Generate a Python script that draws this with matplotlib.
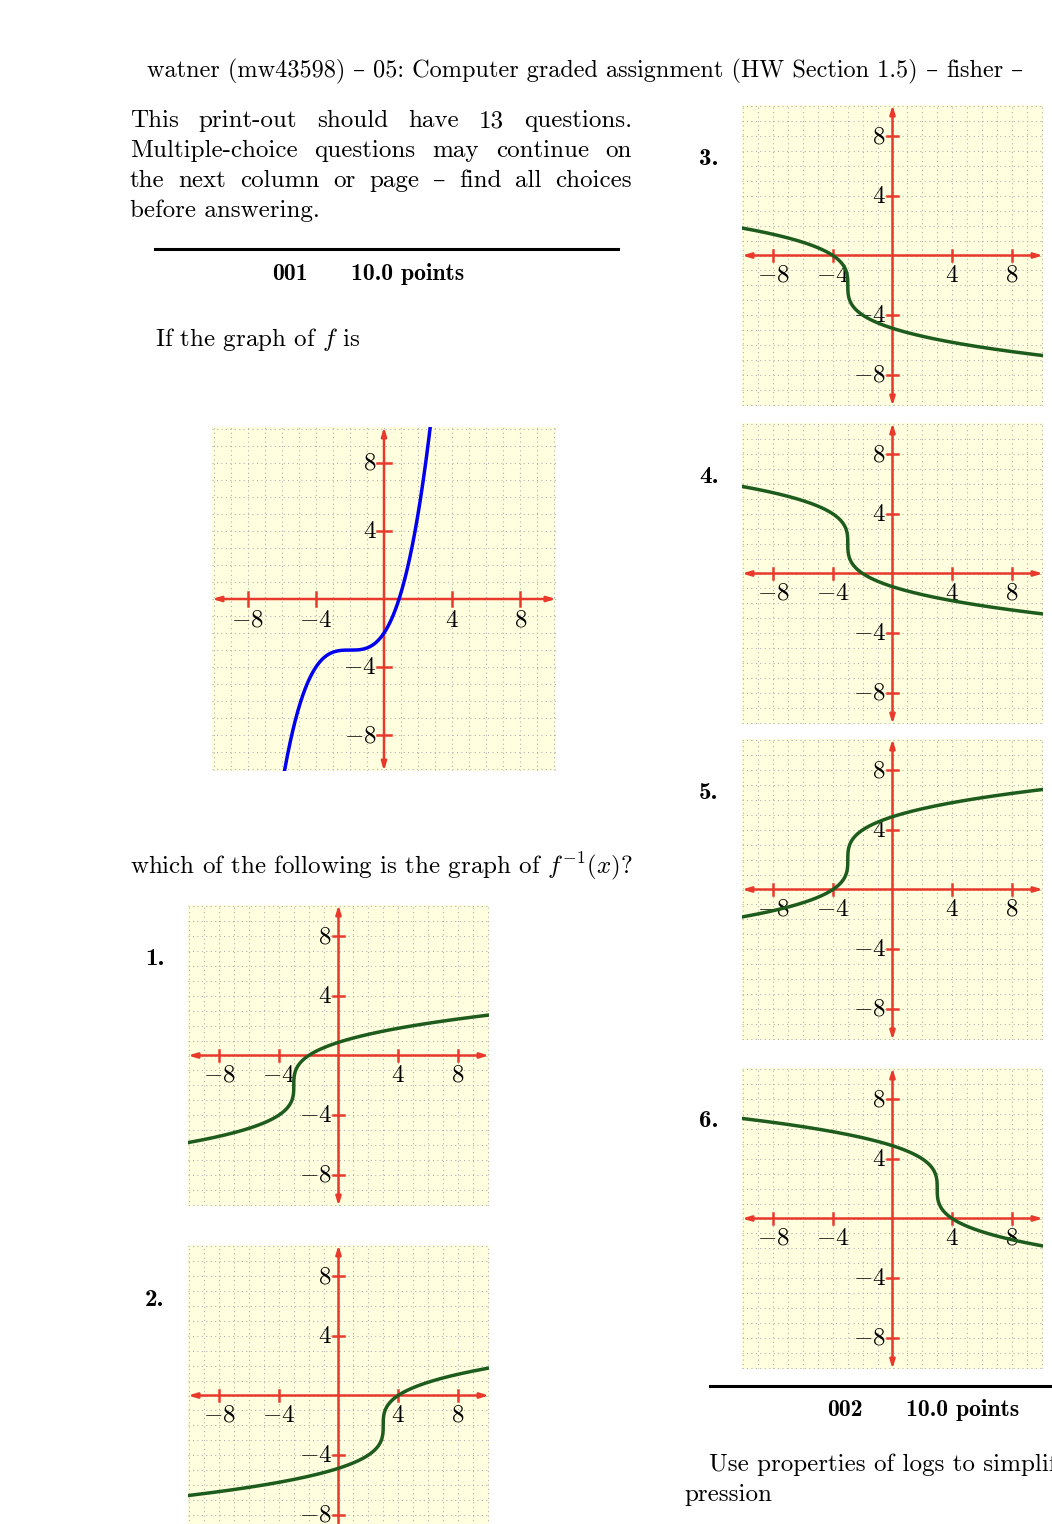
import numpy as np
import matplotlib
matplotlib.use("Agg")
import matplotlib.pyplot as plt

plt.rcParams["mathtext.fontset"] = "cm"
plt.rcParams["axes.unicode_minus"] = True

W, H = 1052, 1524
RED = "#e8392c"
BG = "#ffffe0"

# f(x) = (x+2)^3/8 - 3 and answer curves y = a*cbrt(x-h) + k
f_shift, f_scale, f_off = -2, 8, -3
opt_names = ["1.", "2.", "3.", "4.", "5.", "6."]
opt_a = [2, 2, -2, -2, 2, -2]
opt_h = [-3, 3, -3, -3, -3, 3]
opt_k = [-2, -2, -2, 2, 2, 2]
tick_vals = [-8, -4, 4, 8]

# box positions (left, top, size) in pixels
opt_boxes = [(188, 905, 301), (188, 1245, 301), (742, 105, 301),
             (742, 423, 301), (742, 739, 301), (742, 1068, 301)]
opt_label_pos = [(145, 958), (145, 1299), (699, 158), (699, 476), (699, 792), (699, 1120)]

fig = plt.figure(figsize=(W / 100, H / 100), dpi=100)
renderer = fig.canvas.get_renderer()
FONT = "cmr10"
BOLD = "cmb10"
DASH = "DejaVu Serif"


def txt(x, y, s, size=18, family=FONT, **kw):
    return fig.text(x / W, 1 - y / H, s, fontsize=size, family=family,
                    va="baseline", **kw)


def run(x, y, parts, size=18):
    # write pieces one after another; en-dashes come from a font that has them
    for s, fam in parts:
        if s == " ":
            x += size * 0.45
            continue
        o = txt(x, y, s, size=size, family=fam)
        x += o.get_window_extent(renderer).width


def panel(left, top, size, x, y, color):
    ax = fig.add_axes([left / W, 1 - (top + size) / H, size / W, size / H])
    L = 10.1
    ax.set_xlim(-L, L)
    ax.set_ylim(-L, L)
    ax.add_patch(plt.Rectangle((-L, -L), 2 * L, 2 * L, color=BG, zorder=0))
    for v in range(-10, 11):
        ax.axvline(v, color="#b0b0b0", lw=0.8, ls=(0, (1, 3)), zorder=1)
        ax.axhline(v, color="#b0b0b0", lw=0.8, ls=(0, (1, 3)), zorder=1)
    for xy, xyt in [((L, 0), (-L, 0)), ((0, L), (0, -L))]:
        ax.annotate("", xy=xy, xytext=xyt,
                    arrowprops=dict(arrowstyle="<|-|>,head_length=0.5,head_width=0.15",
                                    color=RED, lw=1.8, shrinkA=0, shrinkB=0), zorder=3)
    for t in tick_vals:
        ax.plot([t, t], [-0.4, 0.4], color=RED, lw=1.8, zorder=3)
        ax.plot([-0.4, 0.4], [t, t], color=RED, lw=1.8, zorder=3)
        ax.text(t, -0.5, "$%d$" % t, fontsize=18, ha="center", va="top", zorder=4)
        ax.text(-0.45, t, "$%d$" % t, fontsize=18, ha="right", va="center", zorder=4)
    ax.plot(x, y, color=color, lw=2.5, zorder=5)
    ax.axis("off")
    return ax


# header
run(147, 77, [("watner (mw43598)", FONT), (" ", None), ("–", DASH), (" ", None),
              ("05: Computer graded assignment (HW Section 1.5)", FONT), (" ", None),
              ("–", DASH), (" ", None), ("fisher", FONT), (" ", None), ("–", DASH)],
    size=17.5)

# justified paragraph
para = ["This print-out should have 13 questions.",
        "Multiple-choice questions may continue on",
        "the next column or page – find all choices",
        "before answering."]
x0, x1 = 130, 632
for i, line in enumerate(para):
    y = 127 + 30 * i
    words = line.split()
    if i == len(para) - 1:
        txt(x0, y, line)
        continue
    objs = [txt(0, y, w_, family=DASH if w_ == "–" else FONT) for w_ in words]
    widths = [o.get_window_extent(renderer).width for o in objs]
    gap = (x1 - x0 - sum(widths)) / (len(words) - 1)
    pos = x0
    for o, w_ in zip(objs, widths):
        o.set_x(pos / W)
        pos += w_ + gap

fig.add_artist(plt.Line2D([155 / W, 618 / W], [1 - 249 / H] * 2, color="black", lw=2.2))
txt(272, 280, "001", family=BOLD, size=17)
txt(351, 280, "10.0 points", family=BOLD, size=17)
txt(155, 346, "If the graph of $f$ is")

# graph of f
xs = np.linspace(-10.1, 10.1, 2000)
fy = (xs - f_shift) ** 3 / f_scale + f_off
fy = np.where(np.abs(fy) < 10.1, fy, np.nan)
panel(212, 427, 344, xs, fy, "#0000ee")

txt(130, 873, "which of the following is the graph of $f^{-1}(x)$?")

for name, a, h, k, (l, t, s), (lx, ly) in zip(opt_names, opt_a, opt_h, opt_k,
                                             opt_boxes, opt_label_pos):
    yv = a * np.cbrt(xs - h) + k
    panel(l, t, s, xs, yv, "#1e5c1e")
    txt(lx, ly + 7, name, family=BOLD)

fig.add_artist(plt.Line2D([710 / W, 1052 / W], [1 - 1386 / H] * 2, color="black", lw=2.2))
txt(827, 1416, "002", family=BOLD, size=17)
txt(906, 1416, "10.0 points", family=BOLD, size=17)
txt(709, 1471, "Use properties of logs to simplify the ex-")
txt(684, 1501, "pression")

fig.savefig("out.png", dpi=100, facecolor="white")
